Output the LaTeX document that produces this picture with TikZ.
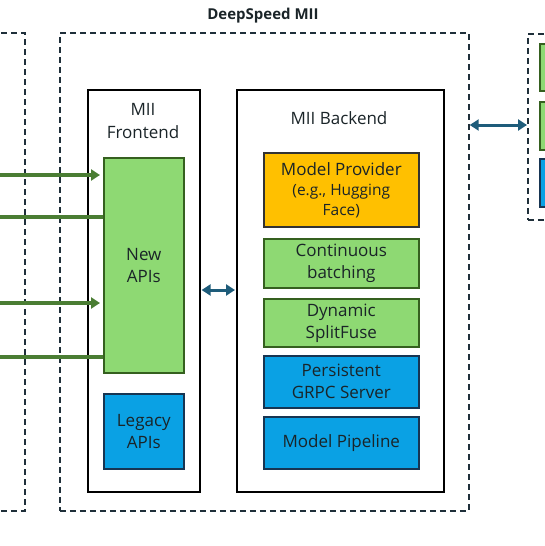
\documentclass[tikz,border=0pt]{standalone}
\usepackage{fontspec}
\setmainfont{Open Sans}
\usetikzlibrary{positioning,arrows.meta}

\definecolor{boxgreen}{HTML}{8ED973}
\definecolor{edgegreen}{HTML}{35601F}
\definecolor{boxorange}{HTML}{FFC000}
\definecolor{boxblue}{HTML}{0AA1E4}
\definecolor{edgeblue}{HTML}{173552}
\definecolor{arrowgreen}{HTML}{4A7D33}
\definecolor{arrowteal}{HTML}{1E5C7A}
\definecolor{dashgray}{HTML}{1F2F3A}
\definecolor{inkdark}{HTML}{1A2428}

\begin{document}
\begin{tikzpicture}
    [
      x=1pt, y=-1pt,
      region/.style={draw=dashgray, line width=1.7pt, dash pattern=on 6pt off 4pt, anchor=north west, inner sep=0pt},
      layer/.style={draw=black, line width=1.6pt, anchor=north west, inner sep=0pt},
      comp/.style={draw=#1, line width=1.6pt, anchor=north west, inner sep=0pt, align=center, text=inkdark, font=\fontsize{17}{22}\selectfont},
      caption/.style={align=center, text=inkdark, font=\fontsize{17}{23}\selectfont},
      flow/.style={arrowgreen, line width=3.4pt},
      link/.style={arrowteal, line width=3pt, {Triangle[length=9pt,width=11pt]}-{Triangle[length=9pt,width=11pt]}}
    ]
    \useasboundingbox (0,0) rectangle (545,546);
    \clip (0,0) rectangle (545,546);
    % outer regions
    \node (client) [region, minimum width=124pt, minimum height=478pt] at (-100,32) {};
    \node (mii) [region, minimum width=409pt, minimum height=478pt] at (59,32) {};
    \node (infer) [region, minimum width=80pt, minimum height=186pt] at (527,33) {};
    \node (title) [text=inkdark, font=\bfseries\fontsize{15}{17}\selectfont] at (263,16) {DeepSpeed MII};
    % frontend
    \node (front) [layer, minimum width=112pt, minimum height=402pt] at (87,89) {};
    \node (fronttxt) [caption] at (143,121) {MII\\Frontend};
    \node (newapi) [comp=edgegreen, fill=boxgreen, minimum width=80pt, minimum height=215pt] at (103,157) {New\\APIs};
    \node (legacy) [comp=edgeblue, fill=boxblue, minimum width=80pt, minimum height=75pt] at (103,393) {Legacy\\APIs};
    % backend
    \node (back) [layer, minimum width=207pt, minimum height=402pt] at (236,89) {};
    \node (backtxt) [caption] at (339,118) {MII Backend};
    \node (provider) [comp=black!80, fill=boxorange, minimum width=155pt, minimum height=74pt] at (263,152)
      {Model Provider\\[-2pt]{\fontsize{15.5}{20}\selectfont (e.g., Hugging}\\[-2pt]{\fontsize{15.5}{20}\selectfont Face)}};
    \node (batch) [comp=edgegreen, fill=boxgreen, minimum width=155pt, minimum height=49pt] at (263,238) {Continuous\\batching};
    \node (split) [comp=edgegreen, fill=boxgreen, minimum width=155pt, minimum height=48pt] at (263,298) {Dynamic\\SplitFuse};
    \node (grpc) [comp=edgeblue, fill=boxblue, minimum width=155pt, minimum height=52pt] at (263,355) {Persistent\\GRPC Server};
    \node (pipe) [comp=edgeblue, fill=boxblue, minimum width=155pt, minimum height=52pt] at (263,416) {Model Pipeline};
    % boxes of the right region
    \node (inferA) [comp=edgegreen, fill=boxgreen, minimum width=40pt, minimum height=47pt] at (539,43) {};
    \node (inferB) [comp=edgegreen, fill=boxgreen, minimum width=40pt, minimum height=48pt] at (539,101) {};
    \node (inferC) [comp=edgeblue, fill=boxblue, minimum width=40pt, minimum height=48pt] at (539,158) {};
    % requests into the new APIs
    \foreach \n/\y in {a/175,b/217,c/303,d/357}
      \coordinate (req\n) at (0,\y);
    \foreach \n in {a,c}
      \draw [flow, -{Triangle[length=9pt,width=11pt]}, shorten >=3pt] (req\n) -- (req\n -| newapi.west);
    \foreach \n in {b,d}
      \draw [flow] (req\n) -- (req\n -| newapi.west);
    % links
    \coordinate (fb) at (0,290);
    \coordinate (mr) at (0,125);
    \draw [link, shorten <=1pt, shorten >=1pt] (fb -| front.east) -- (fb -| back.west);
    \draw [link] (mr -| mii.east) -- (mr -| infer.west);
\end{tikzpicture}
\end{document}
